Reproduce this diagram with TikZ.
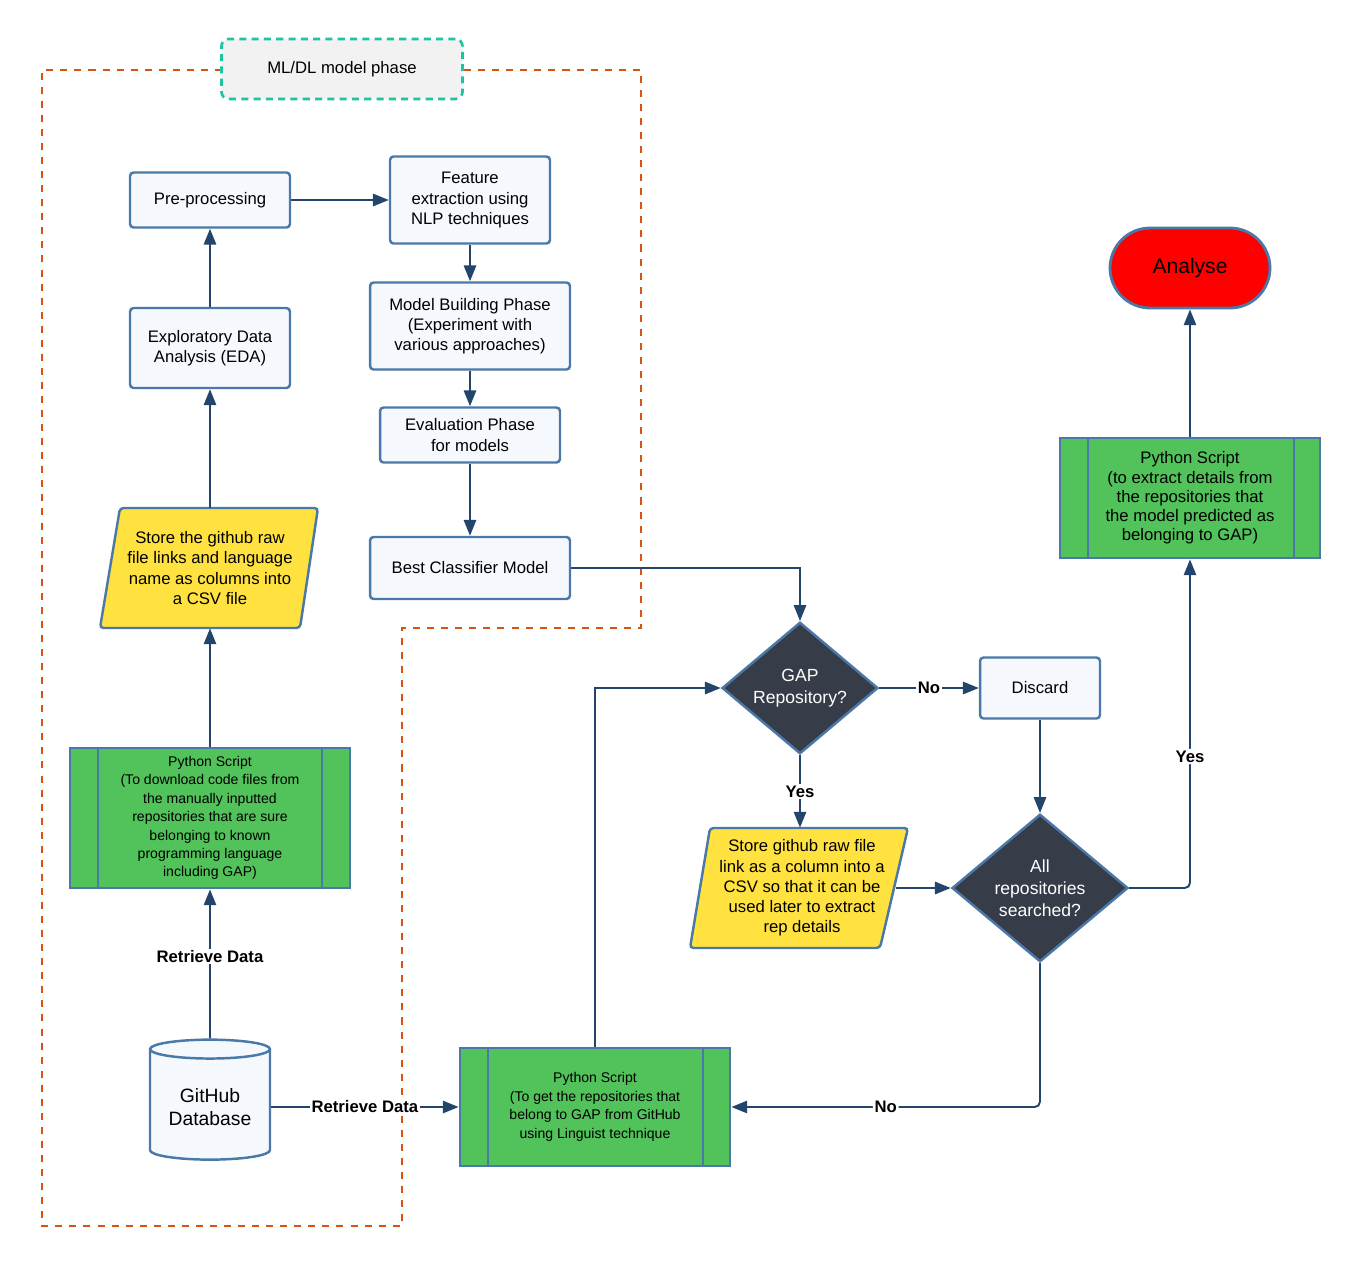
\documentclass[tikz,border=0pt]{standalone}
\usepackage{fontspec}
\setmainfont{Liberation Sans}
\usetikzlibrary{shapes.geometric,arrows.meta,positioning}
\definecolor{edge}{HTML}{23446B}
\definecolor{bord}{HTML}{4A78A8}
\definecolor{boxf}{HTML}{F5F9FD}
\definecolor{grn}{HTML}{52C25A}
\definecolor{yel}{HTML}{FFE23F}
\definecolor{dia}{HTML}{373D48}
\definecolor{org}{HTML}{D9530E}
\definecolor{teal}{HTML}{1CC4A0}
\begin{document}
\begin{tikzpicture}[x=0.02cm,y=-0.02cm,
  box/.style={draw=bord,line width=1.4pt,fill=boxf,rounded corners=2pt,align=center,font=\fontsize{9.5}{11.5}\selectfont,inner sep=1pt},
  proc/.style={draw=bord,line width=1.6pt,fill=grn,align=center,font=\fontsize{8}{10.5}\selectfont,inner sep=1pt},
  para/.style={align=center,font=\fontsize{9.5}{11.5}\selectfont,inner sep=1pt},
  dia/.style={diamond,draw=bord,line width=1.4pt,fill=dia,text=white,align=center,font=\fontsize{10}{12.5}\selectfont,inner sep=0pt},
  arr/.style={draw=edge,line width=1.1pt,-{Triangle[length=9pt,width=7pt]}},
  lab/.style={fill=white,font=\bfseries\fontsize{9.5}{11}\selectfont,inner sep=1pt,text=black}]
\useasboundingbox (0,0) rectangle (1360,1269);
% orange dashed region
\draw[org,line width=1.5pt,dash pattern=on 4pt off 4pt] (222,70) -- (42,70) -- (42,1226) -- (402,1226) -- (402,628) -- (641,628) -- (641,70) -- (463,70);
\node[draw=teal,line width=1.5pt,dash pattern=on 4pt off 3pt,fill=gray!10,rounded corners=4pt,minimum width=241\pgflinewidth*0+4.82cm,minimum height=1.2cm,font=\fontsize{9.5}{11}\selectfont] (ml) at (342,69) {ML/DL model phase};
% left column
\node[box,minimum width=3.2cm,minimum height=1.1cm] (pre) at (210,200) {Pre-processing};
\node[box,minimum width=3.2cm,minimum height=1.74cm] (feat) at (470,200) {Feature\\extraction using\\NLP techniques};
\node[box,minimum width=4cm,minimum height=1.74cm] (model) at (470,326) {Model Building Phase\\(Experiment with\\various approaches)};
\node[box,minimum width=3.6cm,minimum height=1.1cm] (eval) at (470,435) {Evaluation Phase\\for models};
\node[box,minimum width=4cm,minimum height=1.24cm] (best) at (470,568) {Best Classifier Model};
\node[box,minimum width=3.2cm,minimum height=1.6cm] (eda) at (210,348) {Exploratory Data\\Analysis (EDA)};
% parallelogram 1
\node[para,minimum width=3.6cm,minimum height=2.4cm] (store) at (210,568) {Store the github raw\\file links and language\\name as columns into\\a CSV file};
\begin{scope}[on background layer/.try]\end{scope}
\fill[yel,draw=bord,line width=1.4pt,rounded corners=2pt] (120,508) -- (318,508) -- (300,628) -- (100,628) -- cycle;
\node[para] at (210,568) {Store the github raw\\file links and language\\name as columns into\\a CSV file};
% python left
\node[proc,minimum width=5.6cm,minimum height=2.8cm] (pyl) at (210,818) {Python Script\\(To download code files from\\the manually inputted\\repositories that are sure\\belonging to known\\programming language\\including GAP)};
\draw[bord,line width=1.4pt] (98,748) -- (98,888) (322,748) -- (322,888);
% database
\node[cylinder,shape border rotate=90,aspect=0.2,draw=bord,line width=1.4pt,fill=boxf,minimum width=2.4cm,minimum height=2.4cm,align=center,font=\fontsize{11}{13.5}\selectfont] (db) at (210,1107) {GitHub\\Database};
% python bottom
\node[proc,minimum width=5.4cm,minimum height=2.36cm] (pyb) at (595,1107) {Python Script\\(To get the repositories that\\belong to GAP from GitHub\\using Linguist technique};
\draw[bord,line width=1.4pt] (488,1048) -- (488,1166) (703,1048) -- (703,1166);
% GAP diamond
\node[dia,minimum width=3.12cm,minimum height=2.32cm] (gap) at (800,688) {GAP\\Repository?};
\node[box,minimum width=2.4cm,minimum height=1.22cm] (disc) at (1040,688) {Discard};
% parallelogram 2
\node[para,minimum width=3.8cm,minimum height=2.4cm] (store2) at (800,888) {};
\fill[yel,draw=bord,line width=1.4pt,rounded corners=2pt] (710,828) -- (908,828) -- (880,948) -- (690,948) -- cycle;
\node[para] at (802,888) {Store github raw file\\link as a column into a\\CSV so that it can be\\used later to extract\\rep details};
\node[dia,minimum width=3.52cm,minimum height=2.72cm] (all) at (1040,888) {All\\repositories\\searched?};
% python right
\node[proc,minimum width=5.2cm,minimum height=2.4cm,font=\fontsize{9.5}{11}\selectfont] (pyr) at (1190,498) {Python Script\\(to extract details from\\the repositories that\\the model predicted as\\belonging to GAP)};
\draw[bord,line width=1.4pt] (1088,438) -- (1088,558) (1294,438) -- (1294,558);
\node[draw=bord,line width=1.6pt,fill=red!85!black!95,fill=red,rounded corners=0.8cm,minimum width=3.2cm,minimum height=1.6cm,font=\fontsize{12}{14}\selectfont] (an) at (1190,268) {Analyse};
% edges
\draw[arr] (pre) -- (feat);
\draw[arr] (feat) -- (model);
\draw[arr] (model) -- (eval);
\draw[arr] (eval) -- (best);
\draw[arr] (eda) -- (pre);
\draw[arr] (store) -- (eda);
\draw[arr] (pyl) -- (store);
\draw[arr] (db) -- node[lab,pos=0.55]{Retrieve Data} (pyl);
\draw[arr] (db) -- node[lab,pos=0.5]{Retrieve Data} (pyb);
\draw[arr] (pyb.north) |- (gap.west);
\draw[arr] (best.east) -| (gap.north);
\draw[arr] (gap) -- node[lab,pos=0.5]{No} (disc);
\draw[arr] (gap) -- node[lab,pos=0.5]{Yes} (store2);
\draw[arr] (disc) -- (all);
\draw[arr] (896,888) -- (all.west);
\draw[arr,rounded corners=3pt] (all.east) -| node[lab,pos=0.7]{Yes} (pyr.south);
\draw[arr,rounded corners=3pt] (all.south) |- node[lab,pos=0.75]{No} (pyb.east);
\draw[arr] (pyr) -- (an);
\end{tikzpicture}
\end{document}
